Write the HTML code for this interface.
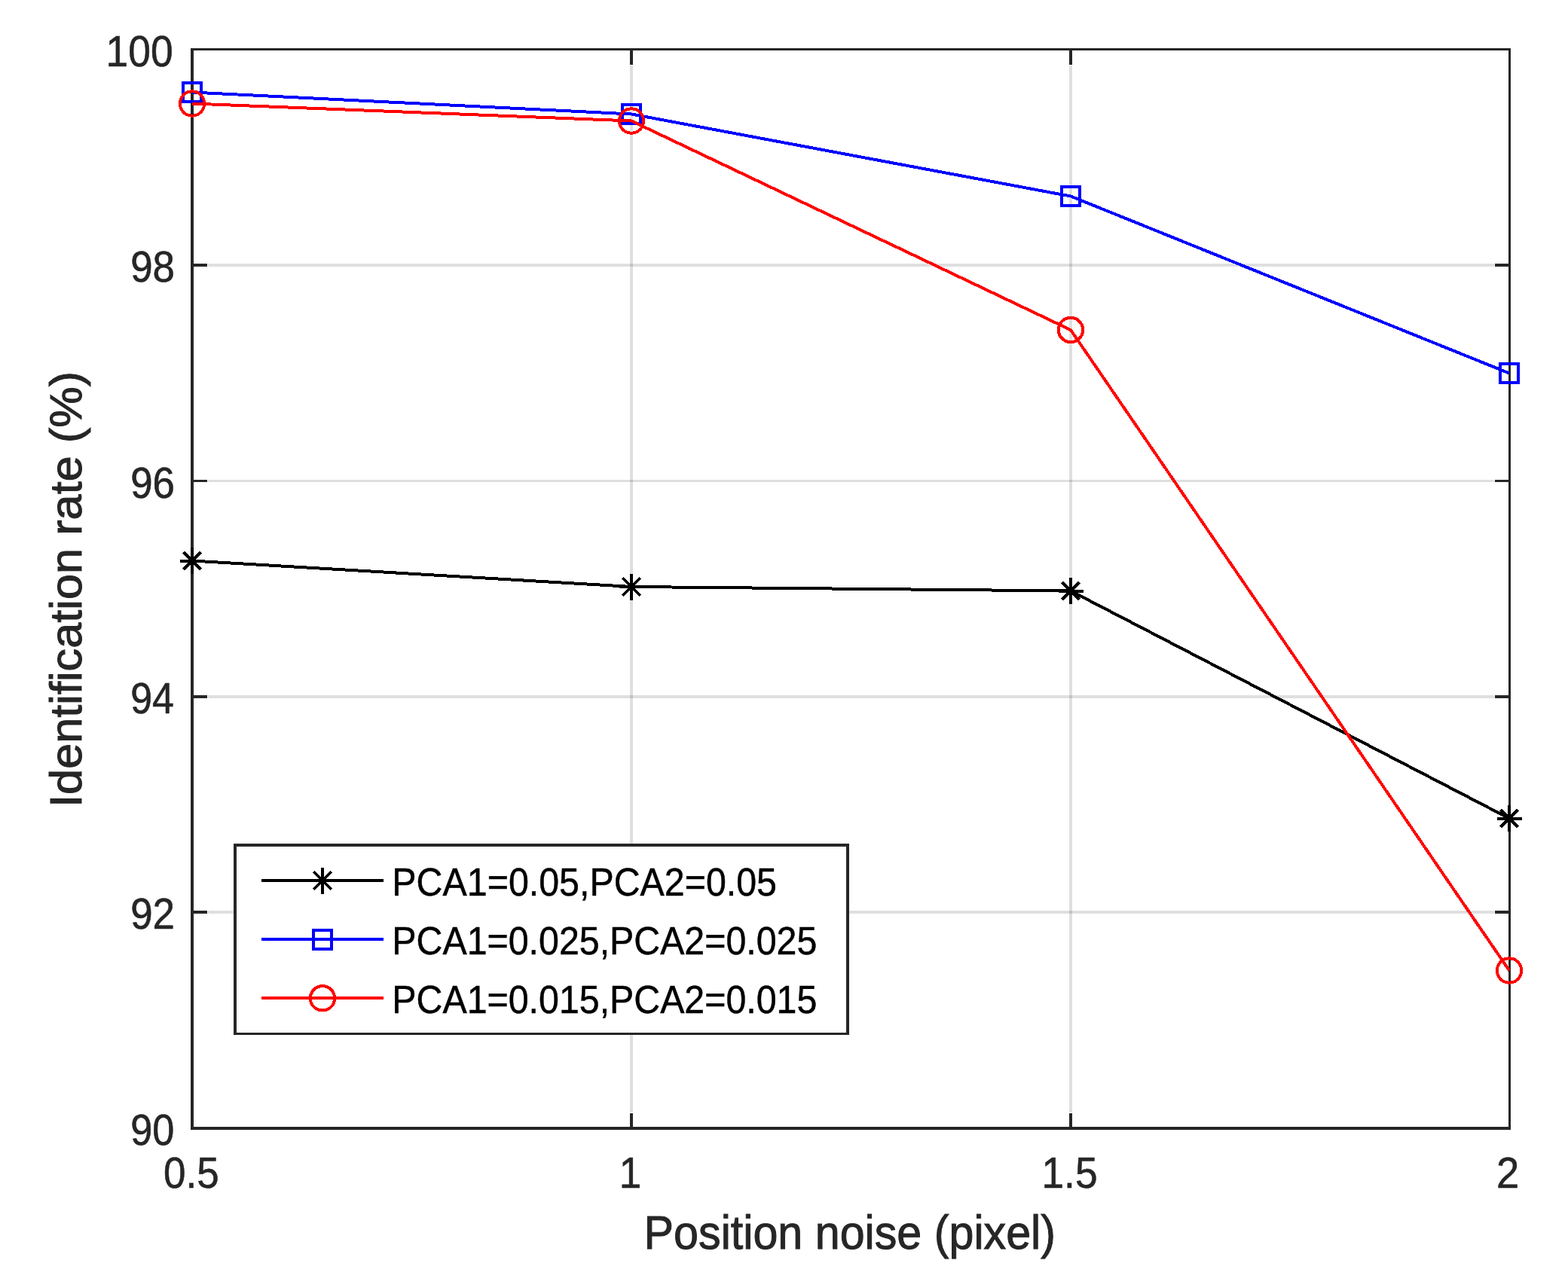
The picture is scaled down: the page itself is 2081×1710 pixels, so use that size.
<!DOCTYPE html>
<html><head><meta charset="utf-8"><title>Identification rate vs position noise</title>
<style>
html,body{margin:0;padding:0;background:#fff;width:2081px;height:1710px;overflow:hidden;}
svg{display:block;}
</style></head><body>
<svg width="2081" height="1710" viewBox="0 0 2081 1710" font-family="'Liberation Sans', sans-serif"><rect width="2081" height="1710" fill="#fff"/><g fill="#262626" fill-opacity="0.15"><rect x="836" y="87" width="4" height="1390"/><rect x="1419" y="87" width="4" height="1390"/><rect x="276" y="350" width="1707" height="4"/><rect x="276" y="637" width="1707" height="3"/><rect x="276" y="923" width="1707" height="4"/><rect x="276" y="1209" width="1707" height="4"/></g>
<g fill="#262626"><rect x="253" y="64" width="1752" height="3"/><rect x="253" y="1496" width="1752" height="4"/><rect x="253" y="64" width="4" height="1436"/><rect x="2002" y="64" width="3" height="1436"/><rect x="257" y="350" width="18" height="4"/><rect x="1984" y="350" width="18" height="4"/><rect x="257" y="637" width="18" height="3"/><rect x="1984" y="637" width="18" height="3"/><rect x="257" y="923" width="18" height="4"/><rect x="1984" y="923" width="18" height="4"/><rect x="257" y="1209" width="18" height="4"/><rect x="1984" y="1209" width="18" height="4"/><rect x="836" y="67" width="4" height="19"/><rect x="836" y="1478" width="4" height="18"/><rect x="1419" y="67" width="4" height="19"/><rect x="1419" y="1478" width="4" height="18"/></g>
<polyline points="255,744.5 838,779 1421,784.5 2003,1086.5" fill="none" stroke="#000" stroke-width="4.0" stroke-linejoin="miter" shape-rendering="crispEdges"/>
<g stroke="#000" stroke-width="4.0" fill="none" shape-rendering="crispEdges"><path d="M238.5,744.5H271.5M255,727.0V762.0M243.4,732.9L266.6,756.1M243.4,756.1L266.6,732.9"/><path d="M821.5,779H854.5M838,761.5V796.5M826.4,767.4L849.6,790.6M826.4,790.6L849.6,767.4"/><path d="M1404.5,784.5H1437.5M1421,767.0V802.0M1409.4,772.9L1432.6,796.1M1409.4,796.1L1432.6,772.9"/><path d="M1986.5,1086.5H2019.5M2003,1069.0V1104.0M1991.4,1074.9L2014.6,1098.1M1991.4,1098.1L2014.6,1074.9"/></g>
<polyline points="255,122.5 838,151.5 1421,260.5 2003,495.5" fill="none" stroke="#00f" stroke-width="4.0" stroke-linejoin="miter" shape-rendering="crispEdges"/>
<g stroke="#00f" stroke-width="4" fill="none" shape-rendering="crispEdges"><rect x="243" y="110.0" width="24" height="25.0"/><rect x="826" y="139.0" width="24" height="25.0"/><rect x="1409" y="248.0" width="24" height="25.0"/><rect x="1991" y="483.0" width="24" height="25.0"/></g>
<polyline points="255,137.5 838,160.5 1421,438 2003,1288.5" fill="none" stroke="#f00" stroke-width="4.0" stroke-linejoin="miter" shape-rendering="crispEdges"/>
<g stroke="#f00" stroke-width="4" fill="none" shape-rendering="crispEdges"><circle cx="255" cy="137.5" r="16.2"/><circle cx="838" cy="160.5" r="16.2"/><circle cx="1421" cy="438" r="16.2"/><circle cx="2003" cy="1288.5" r="16.2"/></g>
<g fill="#262626" stroke="#262626"><text transform="translate(140.54,87.5) scale(0.9404,1)" font-size="56.8" stroke-width="0.6">100</text><text transform="translate(173.14,374.0) scale(0.9322,1)" font-size="56.8" stroke-width="0.6">98</text><text transform="translate(173.14,660.5) scale(0.9322,1)" font-size="56.8" stroke-width="0.6">96</text><text transform="translate(173.17,947.0) scale(0.9133,1)" font-size="56.8" stroke-width="0.6">94</text><text transform="translate(173.14,1233.0) scale(0.9322,1)" font-size="56.8" stroke-width="0.6">92</text><text transform="translate(173.26,1520.0) scale(0.9214,1)" font-size="56.8" stroke-width="0.6">90</text><text transform="translate(217.0,1577.0) scale(0.9325,1)" font-size="56.8" stroke-width="0.6">0.5</text><text transform="translate(1382.44,1577.0) scale(0.9397,1)" font-size="56.8" stroke-width="0.6">1.5</text><text transform="translate(1986.08,1577.0) scale(0.9581,1)" font-size="56.8" stroke-width="0.6">2</text><text transform="translate(836.6,1577) scale(0.935,1)" text-anchor="middle" font-size="56.8" stroke-width="0.6">1</text></g>
<g fill="#262626" stroke="#262626"><text transform="translate(854.62,1658.0) scale(0.9475,1)" font-size="62.5" stroke-width="1.0">Position noise (pixel)</text>
<text transform="translate(107.8,1071.93) rotate(-90) scale(1.0301,1)" font-size="59.5" stroke-width="1.0">Identification rate (%)</text></g>
<rect x="310" y="1120" width="817" height="254" fill="#fff"/><g fill="#262626"><rect x="310" y="1120" width="817" height="4"/><rect x="310" y="1371" width="817" height="3"/><rect x="310" y="1120" width="4" height="254"/><rect x="1123" y="1120" width="4" height="254"/></g><line x1="347" y1="1169" x2="509" y2="1169" stroke="#000" stroke-width="4.0" shape-rendering="crispEdges"/><g stroke="#000" stroke-width="4.0" fill="none" shape-rendering="crispEdges"><path d="M411.5,1169H444.5M428,1151.5V1186.5M416.4,1157.4L439.6,1180.6M416.4,1180.6L439.6,1157.4"/></g><g fill="#000" stroke="#000"><text transform="translate(520.37,1189.0) scale(0.9335,1)" font-size="51.8" stroke-width="0.5">PCA1=0.05,PCA2=0.05</text></g><line x1="347" y1="1247" x2="509" y2="1247" stroke="#00f" stroke-width="4.0" shape-rendering="crispEdges"/><g stroke="#00f" stroke-width="4" fill="none" shape-rendering="crispEdges"><rect x="416" y="1235.0" width="24" height="25.0"/></g><g fill="#000" stroke="#000"><text transform="translate(520.37,1267.0) scale(0.9326,1)" font-size="51.8" stroke-width="0.5">PCA1=0.025,PCA2=0.025</text></g><line x1="347" y1="1325" x2="509" y2="1325" stroke="#f00" stroke-width="4.0" shape-rendering="crispEdges"/><g stroke="#f00" stroke-width="4" fill="none" shape-rendering="crispEdges"><circle cx="428" cy="1325.3" r="16.2"/></g><g fill="#000" stroke="#000"><text transform="translate(520.37,1345.0) scale(0.9326,1)" font-size="51.8" stroke-width="0.5">PCA1=0.015,PCA2=0.015</text></g></svg>
</body></html>
